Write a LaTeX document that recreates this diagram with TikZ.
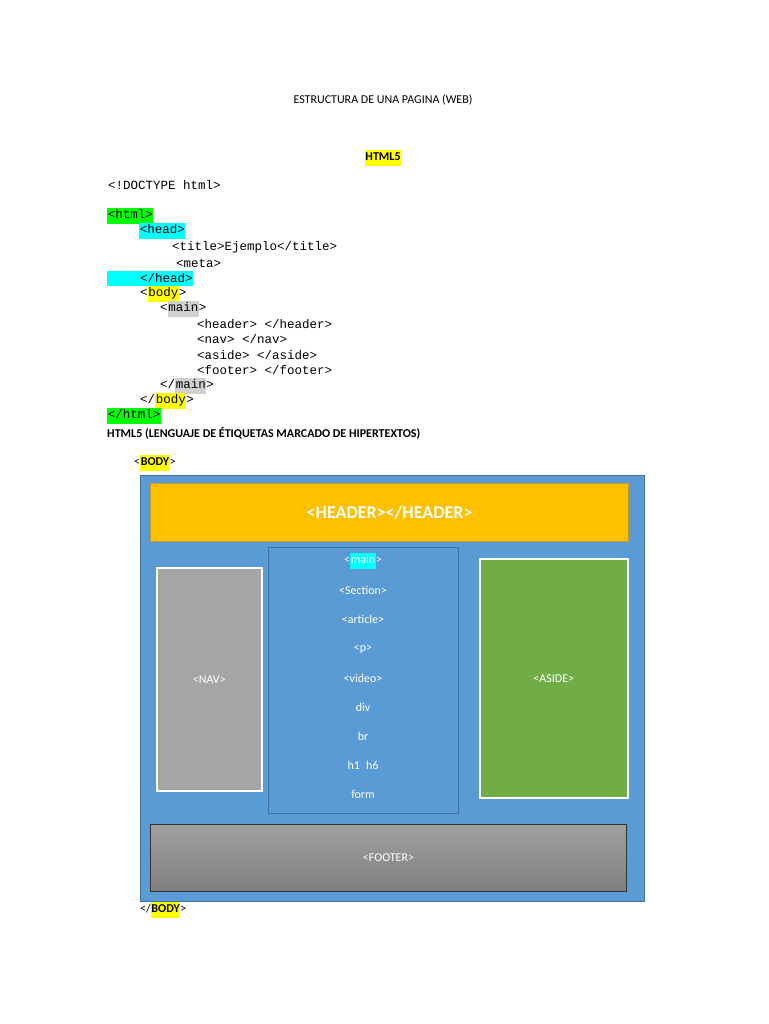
\documentclass[tikz,border=0pt]{standalone}
\usepackage{fontspec}
\setmainfont{Carlito}
\setmonofont{Liberation Mono}
\definecolor{bodyblue}{HTML}{5B9BD5}
\definecolor{darkblue}{HTML}{41719C}
\definecolor{hdr}{HTML}{FFC000}
\definecolor{hdrb}{HTML}{C9962A}
\definecolor{navg}{HTML}{A5A5A5}
\definecolor{asg}{HTML}{70AD47}
\definecolor{hlg}{HTML}{00FF00}
\definecolor{hlc}{HTML}{00FFFF}
\definecolor{hly}{HTML}{FFFF00}
\definecolor{hlgr}{HTML}{D0D0D0}
\newcommand{\hlt}[2]{{\setlength{\fboxsep}{0.6pt}\colorbox{#1}{\strut #2}}}
\tikzset{
  code/.style={anchor=west,inner sep=0pt,font=\fontsize{12.5}{14}\ttfamily},
  txt/.style={inner sep=0pt,font=\fontsize{12}{14}\selectfont},
  wtxt/.style={inner sep=0pt,text=white,font=\fontsize{12}{14}\selectfont},
}
\begin{document}
\begin{tikzpicture}[x=1pt,y=-1pt]
\useasboundingbox[fill=white] (0,0) rectangle (768,1024);
\node[txt] (title) at (383,100) {ESTRUCTURA DE UNA PAGINA (WEB)};
\node[txt,font=\fontsize{12}{14}\bfseries] (h5) at (383,158) {\hlt{hly}{HTML5}};
\node[code] (l1) at (108,185) {<!DOCTYPE html>};
\node[code] (l2) at (107,216) {\hlt{hlg}{<html>}};
\node[code] (l3) at (139,231) {\hlt{hlc}{<head>}};
\node[code] (l4) at (172,247) {<title>Ejemplo</title>};
\node[code] (l5) at (176,263) {<meta>};
\fill[hlc] (107,270.5) rectangle (193,285.5);
\node[code] (l6) at (140,278) {</head>};
\node[code] (l7) at (140,294) {<\hlt{hly}{body}>};
\node[code] (l8) at (160,309) {<\hlt{hlgr}{main}>};
\node[code] (l9) at (197,324) {<header> </header>};
\node[code] (l10) at (197,339) {<nav> </nav>};
\node[code] (l11) at (197,355) {<aside> </aside>};
\node[code] (l12) at (197,370) {<footer> </footer>};
\node[code] (l13) at (160,386) {</\hlt{hlgr}{main}>};
\node[code] (l14) at (140,401) {</\hlt{hly}{body}>};
\node[code] (l15) at (107,416) {\hlt{hlg}{</html>}};
\node[txt,anchor=west,font=\fontsize{12}{14}\bfseries] (cap) at (107,433) {HTML5 (LENGUAJE DE ÉTIQUETAS MARCADO DE HIPERTEXTOS)};
\node[txt,anchor=west] (bo) at (134,463) {<\hlt{hly}{\textbf{BODY}}>};
\node[draw=darkblue,fill=bodyblue,minimum width=504,minimum height=426,anchor=north west,inner sep=0pt] (outer) at (140,475) {};
\node[draw=hdrb,line width=1.2pt,fill=hdr,minimum width=478,minimum height=58,anchor=north west,inner sep=0pt,text=white,font=\fontsize{18}{20}\bfseries] (header) at (150,483) {<HEADER></HEADER>};
\node[draw=darkblue,fill=bodyblue,line width=1pt,minimum width=190,minimum height=266,anchor=north west,inner sep=0pt] (main) at (268,547) {};
\node[draw=white,line width=1.5pt,fill=navg,minimum width=105,minimum height=223,anchor=north west,inner sep=0pt,text=white,font=\fontsize{12}{14}\selectfont] (nav) at (156,567) {<NAV>};
\node[draw=white,line width=1.5pt,fill=asg,minimum width=148,minimum height=239,anchor=north west,inner sep=0pt,text=white,font=\fontsize{12}{14}\selectfont] (aside) at (479,558) {<ASIDE>};
\shade[top color=black!37,bottom color=black!50] (150,824) rectangle (626,891);
\node[draw=black!80,line width=1pt,minimum width=476,minimum height=67,anchor=north west,inner sep=0pt,text=white,font=\fontsize{12}{14}\selectfont] (footer) at (150,824) {<FOOTER>};
\node[wtxt] (m1) at (363,561) {<\hlt{hlc}{main}>};
\node[wtxt] (m2) at (363,590) {<Section>};
\node[wtxt] (m3) at (363,619) {<article>};
\node[wtxt] (m4) at (363,649) {<p>};
\node[wtxt] (m5) at (363,678) {<video>};
\node[wtxt] (m6) at (363,707) {div};
\node[wtxt] (m7) at (363,736) {br};
\node[wtxt] (m8) at (363,765) {h1\enspace h6};
\node[wtxt] (m9) at (363,794) {form};
\node[txt,anchor=west] (bc) at (140,910) {</\hlt{hly}{\textbf{BODY}}>};
\end{tikzpicture}
\end{document}
